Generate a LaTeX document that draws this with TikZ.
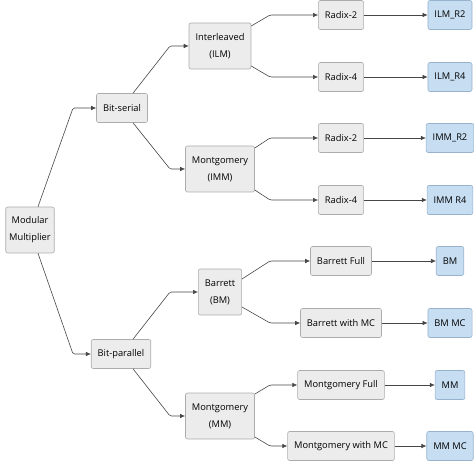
\documentclass[tikz,border=0pt]{standalone}
\usepackage{fontspec}
\setmainfont{Open Sans}
\usepackage{tikz}
\usetikzlibrary{arrows.meta,positioning,calc}

\definecolor{boxfill}{RGB}{236,236,236}
\definecolor{boxline}{RGB}{172,172,172}
\definecolor{leaffill}{RGB}{198,221,242}
\definecolor{leafline}{RGB}{150,178,204}
\definecolor{linkcol}{RGB}{70,70,70}

\begin{document}
\begin{tikzpicture}[x=1pt,y=1pt,yscale=-1,xscale=1,
  box/.style={draw=boxline,fill=boxfill,rounded corners=2pt,line width=0.6pt,
    inner xsep=6.5pt,inner ysep=0pt,minimum height=29pt,align=center,
    font=\fontsize{9.3}{17}\selectfont},
  tallbox/.style={box,minimum height=46pt},
  leaf/.style={box,draw=leafline,fill=leaffill},
  link/.style={draw=linkcol,line width=0.6pt,rounded corners=1.5pt,
    -{Latex[length=5pt,width=4.5pt]}}]
\useasboundingbox (0,0) rectangle (474,462);

% Root
\node [tallbox,inner xsep=3.5pt] (mod) at (30,230) {Modular\\Multiplier};

% Bit-serial / bit-parallel
\node [box] (bs) at (122,108) {Bit-serial};
\node [box] (bp) at (121,354) {Bit-parallel};

% Methods
\node [tallbox] (ilm) at (220,46) {Interleaved\\(ILM)};
\node [tallbox] (imm) at (220,169) {Montgomery\\(IMM)};
\node [tallbox] (bm) at (220,292) {Barrett\\(BM)};
\node [tallbox] (mm) at (220,416) {Montgomery\\(MM)};

% Variants
\node [box] (ilmrtwo) at (341,15) {Radix-2};
\node [box] (ilmrfour) at (341,77) {Radix-4};
\node [box] (immrtwo) at (341,138) {Radix-2};
\node [box] (immrfour) at (341,200) {Radix-4};
\node [box] (bfull) at (341,261) {Barrett Full};
\node [box] (bmc) at (341,323) {Barrett with MC};
\node [box] (mfull) at (341,385) {Montgomery Full};
\node [box] (mmc) at (341,446) {Montgomery with MC};

% Results
\node [leaf] (ilmrtwoout) at (450,15) {ILM\_R2};
\node [leaf] (ilmrfourout) at (450,77) {ILM\_R4};
\node [leaf] (immrtwoout) at (450,138) {IMM\_R2};
\node [leaf] (immrfourout) at (450,200) {IMM R4};
\node [leaf] (bfullout) at (450,261) {BM};
\node [leaf] (bmcout) at (450,323) {BM MC};
\node [leaf] (mfullout) at (450,385) {MM};
\node [leaf] (mmcout) at (450,446) {MM MC};

% bend columns
\coordinate (kone) at (73,0);
\coordinate (ktwo) at (170,0);
\coordinate (kthree) at (270,0);

%Links level 1
\draw [link] ($(mod.north)+(8,0)$) -- (kone |- bs.west) -- (bs.west);
\draw [link] ($(mod.south)+(8,0)$) -- (kone |- bp.west) -- (bp.west);
%Links level 2
\draw [link] ($(bs.north)+(11,0)$) -- (ktwo |- ilm.west) -- (ilm.west);
\draw [link] ($(bs.south)+(11,0)$) -- (ktwo |- imm.west) -- (imm.west);
\draw [link] ($(bp.north)+(12,0)$) -- (ktwo |- bm.west) -- (bm.west);
\draw [link] ($(bp.south)+(12,0)$) -- (ktwo |- mm.west) -- (mm.west);
%Links level 3
\draw [link] ($(ilm.east)+(0,-20)$) -- (kthree |- ilmrtwo.west) -- (ilmrtwo.west);
\draw [link] ($(ilm.east)+(0,20)$) -- (kthree |- ilmrfour.west) -- (ilmrfour.west);
\draw [link] ($(imm.east)+(0,-21)$) -- (kthree |- immrtwo.west) -- (immrtwo.west);
\draw [link] ($(imm.east)+(0,21)$) -- (kthree |- immrfour.west) -- (immrfour.west);
\draw [link] ($(bm.east)+(0,-13)$) -- (kthree |- bfull.west) -- (bfull.west);
\draw [link] ($(bm.east)+(0,15)$) -- (kthree |- bmc.west) -- (bmc.west);
\draw [link] ($(mm.east)+(0,-22)$) -- (kthree |- mfull.west) -- (mfull.west);
\draw [link] ($(mm.east)+(0,21)$) -- (kthree |- mmc.west) -- (mmc.west);
%Links to results
\foreach \a in {ilmrtwo,ilmrfour,immrtwo,immrfour,bfull,bmc,mfull,mmc}
  \draw [link] (\a.east) -- (\a out.west);
\end{tikzpicture}
\end{document}
